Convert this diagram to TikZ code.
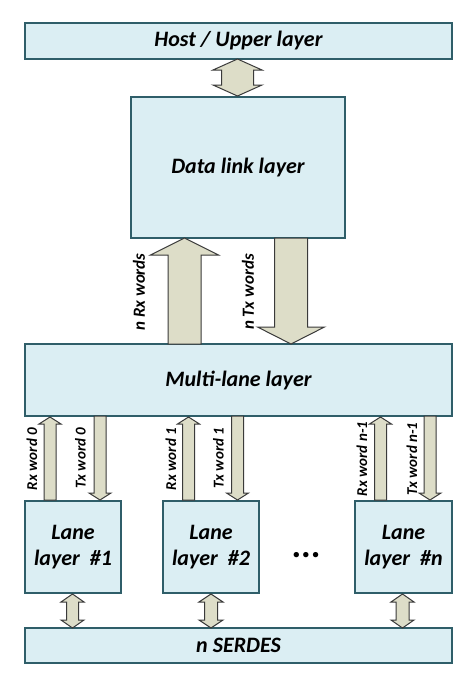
\documentclass[tikz,border=0pt]{standalone}
\usepackage{fontspec}
\setmainfont{Carlito}
\definecolor{boxfill}{HTML}{DBEEF3}
\definecolor{boxline}{HTML}{2F5E69}
\definecolor{arrfill}{HTML}{DDDDC8}
\definecolor{arrline}{HTML}{3A3A3A}
\tikzset{
  layerbox/.style={draw=boxline, line width=2pt, fill=boxfill, rectangle, inner sep=0pt,
    font=\fontsize{22}{26}\selectfont\bfseries\itshape, align=center},
  blockarr/.style={draw=arrline, line width=1pt, fill=arrfill, line join=miter},
  biglabel/.style={rotate=90, font=\fontsize{17}{20}\selectfont\bfseries\itshape, inner sep=0pt},
  smalllabel/.style={rotate=90, font=\fontsize{15}{18}\selectfont\bfseries\itshape, inner sep=0pt}
}
% up arrow: #1 x, #2 tip y, #3 bottom y, #4 shaft half, #5 head half, #6 head length
\newcommand\BArUp[6]{%
  \draw[blockarr] (#1,#2) -- ({#1+#5},{#2+#6}) -- ({#1+#4},{#2+#6}) -- ({#1+#4},#3)
    -- ({#1-#4},#3) -- ({#1-#4},{#2+#6}) -- ({#1-#5},{#2+#6}) -- cycle;}
% down arrow: #1 x, #2 top y, #3 tip y
\newcommand\BArDown[6]{%
  \draw[blockarr] (#1,#3) -- ({#1+#5},{#3-#6}) -- ({#1+#4},{#3-#6}) -- ({#1+#4},#2)
    -- ({#1-#4},#2) -- ({#1-#4},{#3-#6}) -- ({#1-#5},{#3-#6}) -- cycle;}
% double arrow: #1 x, #2 top tip, #3 bottom tip
\newcommand\BArBoth[6]{%
  \draw[blockarr] (#1,#2) -- ({#1+#5},{#2+#6}) -- ({#1+#4},{#2+#6}) -- ({#1+#4},{#3-#6})
    -- ({#1+#5},{#3-#6}) -- (#1,#3) -- ({#1-#5},{#3-#6}) -- ({#1-#4},{#3-#6})
    -- ({#1-#4},{#2+#6}) -- ({#1-#5},{#2+#6}) -- cycle;}
\begin{document}
\begin{tikzpicture}[x=1pt,y=-1pt]
\useasboundingbox (0,0) rectangle (474,686);
\fill[white] (0,0) rectangle (474,686);

% layers
\node[layerbox, minimum width=427pt, minimum height=36pt] (host) at (238.5,41) {Host / Upper layer};
\node[layerbox, minimum width=214pt, minimum height=141pt] (dll) at (238,167.5) {Data link layer};
\node[layerbox, minimum width=427pt, minimum height=72pt] (ml) at (238.5,380) {Multi-lane layer};
\node[layerbox, minimum width=96pt, minimum height=92pt] (lane1) at (73,547) {Lane\\layer~~\#1};
\node[layerbox, minimum width=96pt, minimum height=92pt] (lane2) at (211,547) {Lane\\layer~~\#2};
\node[layerbox, minimum width=97pt, minimum height=92pt] (lanen) at (403.5,547) {Lane\\layer~~\#n};
\node[layerbox, minimum width=427pt, minimum height=35pt] (serdes) at (238.5,645.5) {n SERDES};
\node[font=\fontsize{36}{38}\selectfont\bfseries, anchor=base, inner sep=0pt] (dots) at (306,557) {...};

% host <-> data link
\BArBoth{237.5}{59}{96}{16}{24.5}{11}
% data link <-> multi-lane
\BArUp{184.5}{238}{344}{16.5}{34}{17}
\BArDown{291}{238}{344}{16.5}{33.5}{17}
\node[biglabel] (nrx) at (139,292) {n Rx words};
\node[biglabel] (ntx) at (248,292) {n Tx words};

% multi-lane <-> lanes
\BArUp{50}{417}{500}{6}{11}{7}
\BArDown{100}{416}{500}{6}{11}{7}
\BArUp{188.5}{417}{500}{6}{11}{7}
\BArDown{237.5}{416}{500}{6}{11}{7}
\BArUp{380.5}{417}{500}{6}{11}{7}
\BArDown{430}{416}{500}{6}{11}{7}
\node[smalllabel] (rx0) at (32,459) {Rx word 0};
\node[smalllabel] (tx0) at (80.5,458) {Tx word 0};
\node[smalllabel] (rx1) at (171,459) {Rx word 1};
\node[smalllabel] (tx1) at (218.5,458) {Tx word 1};
\node[smalllabel] (rxn) at (362,459) {Rx word n-1};
\node[smalllabel] (txn) at (412,459) {Tx word n-1};

% lanes <-> serdes
\BArBoth{72.5}{594}{628}{6}{11.5}{8}
\BArBoth{211}{594}{628}{6.5}{12}{8}
\BArBoth{402.5}{594}{628}{6.5}{11.5}{8}
\end{tikzpicture}
\end{document}
